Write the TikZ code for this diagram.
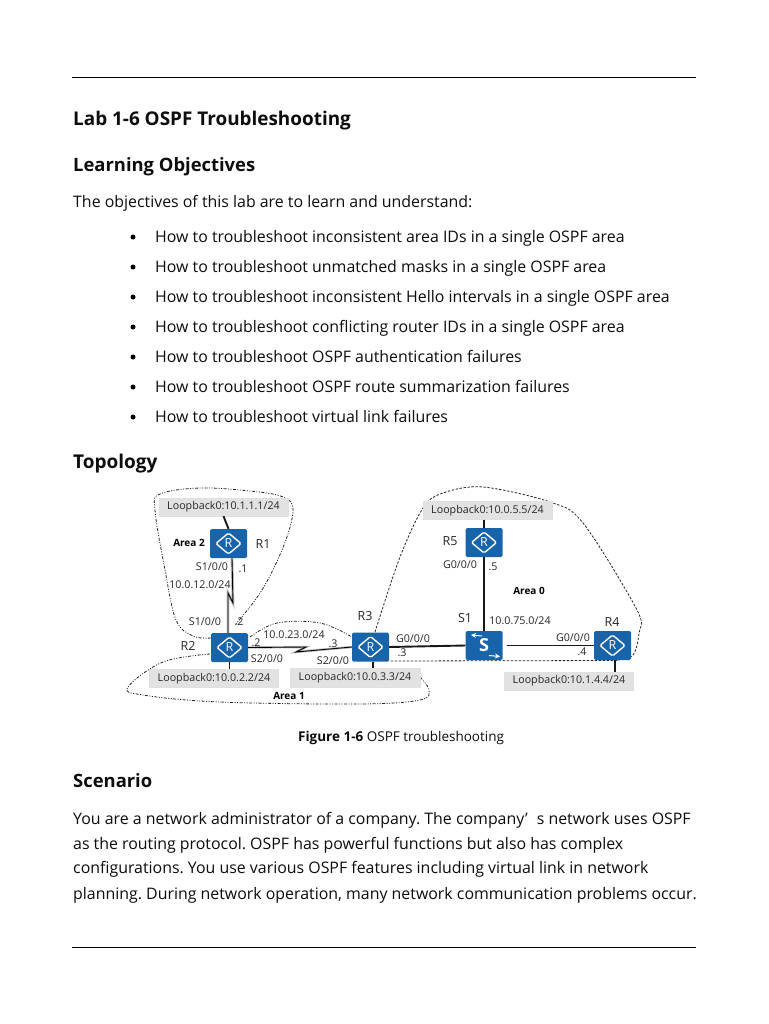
\documentclass[tikz,border=0pt]{standalone}
\usepackage{fontspec}
\setmainfont{Open Sans}
\usetikzlibrary{calc,arrows.meta}
\frenchspacing
\definecolor{hblue}{RGB}{23,100,170}
\definecolor{lbgray}{RGB}{226,226,226}
\tikzset{
  x=1pt,y=-1pt,
  txt/.style={anchor=base west,inner sep=0pt,text=black!95},
  head/.style={txt,font=\fontsize{18.4}{20}\selectfont\bfseries},
  body/.style={txt,font=\fontsize{15.9}{18}\selectfont},
  bul/.style={circle,fill=black,inner sep=0pt,minimum size=5pt},
  rulel/.style={line width=0.9pt,black},
  lab/.style={inner sep=0pt,font=\fontsize{10.7}{12}\selectfont,text=black!85},
  rname/.style={inner sep=0pt,font=\fontsize{12.5}{14}\selectfont,text=black!85},
  areal/.style={inner sep=0pt,font=\fontsize{10}{12}\selectfont\bfseries},
  lb/.style={fill=lbgray,draw=black!12,line width=.3pt,inner sep=0pt,minimum width=129,minimum height=18,font=\fontsize{10.7}{12}\selectfont,text=black!85},
  router/.style={fill=hblue,rounded corners=1.5pt,inner sep=0pt,minimum width=37,minimum height=29,text=white,font=\fontsize{12.5}{12}\selectfont,
    path picture={\draw[white,line width=1.4pt] ($(path picture bounding box.center)+(-12.5,0)$)--++(12.5,-10.5)--++(12.5,10.5)--++(-12.5,10.5)--cycle;}},
  switchn/.style={fill=hblue,rounded corners=1.5pt,inner sep=0pt,minimum width=37,minimum height=29,text=white,font=\fontsize{18}{18}\selectfont\bfseries,
    path picture={\draw[white,line width=1pt,-{Stealth[length=5pt,width=5pt]}] ($(path picture bounding box.center)+(-2,-9.5)$)--++(-11,-1);
                  \draw[white,line width=1pt,-{Stealth[length=5pt,width=5pt]}] ($(path picture bounding box.center)+(5,10)$)--++(11,1);}},
  eth/.style={line width=1.9pt,black!90},
  ser/.style={line width=.9pt,black},
  serh/.style={line width=2.8pt,black!25},
  dd/.style={line width=.8pt,black!85,dash pattern=on 3pt off 1.5pt on 1pt off 1.5pt on 1pt off 1.5pt},
  ds/.style={line width=.8pt,black!85,dash pattern=on 2.4pt off 1.6pt},
}
\begin{document}
\begin{tikzpicture}
\useasboundingbox (0,0) rectangle (768,1024);
\fill[white] (0,0) rectangle (768,1024);
\coordinate (ra) at (72,77); \coordinate (rb) at (696,77);
\coordinate (rc) at (72,947); \coordinate (rd) at (696,947);
\draw[rulel] (ra)--(rb); \draw[rulel] (rc)--(rd);
\node[head,font=\fontsize{18.9}{20}\selectfont\bfseries] (t1) at (73,125.5) {Lab 1-6 OSPF Troubleshooting};
\node[head] (t2) at (73,171.5) {Learning Objectives};
\node[body] (t3) at (73,208) {The objectives of this lab are to learn and understand:};
\foreach \n/\yy/\s in {1/242/How to troubleshoot inconsistent area IDs in a single OSPF area,
 2/272/How to troubleshoot unmatched masks in a single OSPF area,
 3/302/How to troubleshoot inconsistent Hello intervals in a single OSPF area,
 4/332/How to troubleshoot conflicting router IDs in a single OSPF area,
 5/362/How to troubleshoot OSPF authentication failures,
 6/392/How to troubleshoot OSPF route summarization failures,
 7/422/How to troubleshoot virtual link failures}{
  \node[bul] (b\n) at (133,\yy-5) {};
  \node[body] (l\n) at (155,\yy) {\s};
}
\node[head,font=\fontsize{19}{20}\selectfont\bfseries] (t4) at (73,468) {Topology};
\node (cap) [txt,font=\fontsize{13.5}{14}\selectfont] at (298,741.5) {\textbf{Figure 1-6} OSPF troubleshooting};
\node[head] (t5) at (73,787) {Scenario};
\node[body] (p1) at (73,824) {You are a network administrator of a company. The company’\hspace{5pt} s network uses OSPF};
\node[body] (p2) at (73,849) {as the routing protocol. OSPF has powerful functions but also has complex};
\node[body] (p3) at (73,873) {configurations. You use various OSPF features including virtual link in network};
\node[body] (p4) at (73,899) {planning. During network operation, many network communication problems occur.};

% area outlines
\draw[dd] plot[smooth,tension=.6] coordinates {(211,638)(193,636)(176,620)(165,570)(155,510)(160,494)(200,488)(250,491)(283,497)(293,510)(284,545)(262,590)(235,625)};
\draw[dd] plot[smooth,tension=.6] coordinates {(210,654)(163,662)(128,687)(143,695)(220,702)(360,704)(420,700)(429,690)(420,677)};
\draw[dd] plot[smooth,tension=.6] coordinates {(250,637)(277,623)(320,623)(352,637)};
\draw[ds] plot[smooth,tension=.55] coordinates {(375,632)(400,557)(423,508)(443,493)(483,487)(550,502)(583,523)(637,610)(639,633)(633,655)(617,660)};
\draw[ds] (617,660.5)--(390,661)--(378,659);

% loopback boxes
\node[lb] (lb1) at (223.5,507) {Loopback0:10.1.1.1/24};
\node[lb] (lb2) at (214,678.5) {Loopback0:10.0.2.2/24};
\node[lb,minimum width=130,minimum height=19] (lb3) at (355,677.5) {Loopback0:10.0.3.3/24};
\node[lb] (lb5) at (487.5,510.5) {Loopback0:10.0.5.5/24};
\node[lb] (lb4) at (569,681) {Loopback0:10.1.4.4/24};

% devices
\node[router] (r1) at (228.5,543.5) {R};
\node[router] (r2) at (229.5,647.5) {R};
\node[router] (r3) at (370.5,647) {R};
\node[router] (r5) at (484,542.5) {R};
\node[router] (r4) at (612.5,645.5) {R};
\node[switchn] (s1) at (484,645.5) {S};

% connectors
\draw[eth] (lb1.south)--(r1.north);
\draw[eth] (r2.south)--(r2.south|-lb2.north);
\draw[eth] ([xshift=2.5pt]r3.south)--([xshift=2.5pt]r3.south|-lb3.north);
\draw[eth] (lb5.south-|r5.north)--(r5.north);
\draw[eth] ([xshift=2.5pt]r4.south)--([xshift=2.5pt]r4.south|-lb4.north);
\draw[eth] (r5.south)--(s1.north);
\draw[eth] (r3.east)--(s1.west);
\draw[eth,shorten <=4pt] (s1.east)--(r4.west);
\draw[serh] ([xshift=3.5pt]r1.south)--(233,603)--(228,593)--([xshift=-1.5pt]r2.north);
\draw[ser]  ([xshift=3.5pt]r1.south)--(233,603)--(228,593)--([xshift=-1.5pt]r2.north);
\draw[serh,line width=2.4pt] (r2.east)--(306,647)--(296,652)--(r3.west);
\draw[ser]  (r2.east)--(306,647)--(296,652)--(r3.west);

% labels
\node[rname] (n1) at (263,544) {R1};
\node[rname] (n2) at (188,646) {R2};
\node[rname] (n3) at (365,616) {R3};
\node[rname] (n5) at (450,541) {R5};
\node[rname] (n4) at (612,622) {R4};
\node[rname] (ns) at (465,618) {S1};
\node[areal] (a2) at (189,543) {Area 2};
\node[areal] (a1) at (289,696) {Area 1};
\node[areal] (a0) at (529,591) {Area 0};
\node[lab] at (212,567) {S1/0/0};
\node[lab] at (243,569) {.1};
\node[lab] at (200,585) {10.0.12.0/24};
\node[lab] at (205,622) {S1/0/0};
\node[lab] at (239,622) {.2};
\node[lab] at (256,643) {.2};
\node[lab] at (294,635) {10.0.23.0/24};
\node[lab] at (333,644) {.3};
\node[lab] at (267,659) {S2/0/0};
\node[lab] at (333,661) {S2/0/0};
\node[lab] at (460,565) {G0/0/0};
\node[lab] at (493,567) {.5};
\node[lab] at (520,621) {10.0.75.0/24};
\node[lab] at (413,639) {G0/0/0};
\node[lab] at (402,653) {.3};
\node[lab] at (573,638) {G0/0/0};
\node[lab] at (582,652) {.4};
\end{tikzpicture}
\end{document}
